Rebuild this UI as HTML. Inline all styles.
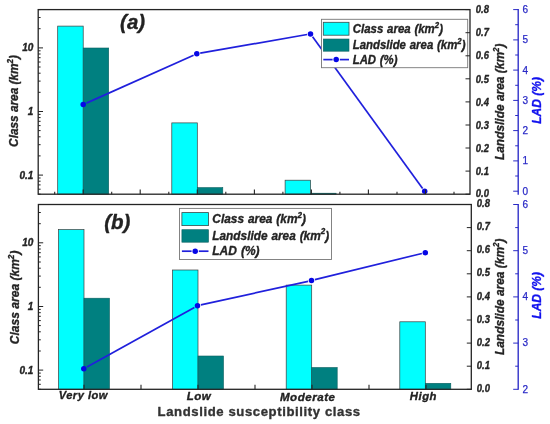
<!DOCTYPE html>
<html><head><meta charset="utf-8"><title>chart</title>
<style>html,body{margin:0;padding:0;background:#fff}svg{display:block}</style></head>
<body><svg width="550" height="424" viewBox="0 0 550 424">
<rect width="550" height="424" fill="#fff"/>
<rect x="57.7" y="26.1" width="25.5" height="168.1" fill="#00ffff" stroke="#3c3c3c" stroke-width="0.7"/>
<rect x="83.2" y="48.0" width="25.5" height="146.2" fill="#008080" stroke="#0a6060" stroke-width="0.6"/>
<rect x="171.8" y="122.9" width="25.5" height="71.3" fill="#00ffff" stroke="#3c3c3c" stroke-width="0.7"/>
<rect x="197.3" y="187.6" width="25.5" height="6.6" fill="#008080" stroke="#0a6060" stroke-width="0.6"/>
<rect x="285.1" y="180.2" width="25.5" height="14.0" fill="#00ffff" stroke="#3c3c3c" stroke-width="0.7"/>
<rect x="310.6" y="193.2" width="25.5" height="1.0" fill="#008080" stroke="#0a6060" stroke-width="0.6"/>
<line x1="86.4" y1="103.1" x2="193.6" y2="55.2" stroke="#2020dc" stroke-width="1.7"/>
<line x1="200.2" y1="53.2" x2="307.1" y2="34.5" stroke="#2020dc" stroke-width="1.7"/>
<line x1="312.6" y1="36.7" x2="422.6" y2="188.4" stroke="#2020dc" stroke-width="1.7"/>
<circle cx="83.2" cy="104.5" r="2.75" fill="#0606e6"/>
<circle cx="196.8" cy="53.8" r="2.75" fill="#0606e6"/>
<circle cx="310.5" cy="33.9" r="2.75" fill="#0606e6"/>
<circle cx="424.7" cy="191.2" r="2.75" fill="#0606e6"/>
<rect x="321.5" y="19.3" width="146.2" height="48.4" fill="#fff" stroke="#777" stroke-width="0.9"/>
<rect x="323.3" y="22.3" width="25.7" height="12.9" fill="#00ffff" stroke="#3a4a4a" stroke-width="0.8"/>
<rect x="323.3" y="39.0" width="25.7" height="12.2" fill="#008080" stroke="#0a6060" stroke-width="0.6"/>
<line x1="323.3" x2="332.6" y1="59.6" y2="59.6" stroke="#2020dc" stroke-width="1.7"/>
<line x1="339.8" x2="349.0" y1="59.6" y2="59.6" stroke="#2020dc" stroke-width="1.7"/>
<circle cx="336.2" cy="59.6" r="2.75" fill="#0606e6"/>
<text transform="translate(352.70,33.40) scale(0.9092,1)" x="0.00" y="0" font-family="Liberation Sans, Arial, sans-serif" font-size="12.6" font-weight="bold" font-style="italic" fill="#242424" word-spacing="0.7" stroke="#242424" stroke-width="0.35" stroke-linejoin="round">Class area (km<tspan dy="-5.29" font-size="8.57">2</tspan><tspan dy="5.29">)</tspan></text>
<text transform="translate(352.70,48.80) scale(0.9060,1)" x="0.00" y="0" font-family="Liberation Sans, Arial, sans-serif" font-size="12.6" font-weight="bold" font-style="italic" fill="#242424" word-spacing="0.7" stroke="#242424" stroke-width="0.35" stroke-linejoin="round">Landslide area (km<tspan dy="-5.29" font-size="8.57">2</tspan><tspan dy="5.29">)</tspan></text>
<text transform="translate(352.70,63.60) scale(0.9015,1)" x="0.00" y="0" font-family="Liberation Sans, Arial, sans-serif" font-size="12.6" font-weight="bold" font-style="italic" fill="#242424" word-spacing="0.7" stroke="#242424" stroke-width="0.35" stroke-linejoin="round">LAD (%)</text>
<rect x="38.2" y="9.6" width="431.8" height="184.6" fill="none" stroke="#242424" stroke-width="1.3"/>
<line x1="38.2" x2="40.6" y1="194.2" y2="194.2" stroke="#242424" stroke-width="1"/>
<line x1="38.2" x2="40.6" y1="189.2" y2="189.2" stroke="#242424" stroke-width="1"/>
<line x1="38.2" x2="40.6" y1="184.9" y2="184.9" stroke="#242424" stroke-width="1"/>
<line x1="38.2" x2="40.6" y1="181.2" y2="181.2" stroke="#242424" stroke-width="1"/>
<line x1="38.2" x2="40.6" y1="178.0" y2="178.0" stroke="#242424" stroke-width="1"/>
<line x1="38.2" x2="43.0" y1="175.1" y2="175.1" stroke="#242424" stroke-width="1"/>
<line x1="38.2" x2="40.6" y1="155.9" y2="155.9" stroke="#242424" stroke-width="1"/>
<line x1="38.2" x2="40.6" y1="144.7" y2="144.7" stroke="#242424" stroke-width="1"/>
<line x1="38.2" x2="40.6" y1="136.8" y2="136.8" stroke="#242424" stroke-width="1"/>
<line x1="38.2" x2="40.6" y1="130.6" y2="130.6" stroke="#242424" stroke-width="1"/>
<line x1="38.2" x2="40.6" y1="125.6" y2="125.6" stroke="#242424" stroke-width="1"/>
<line x1="38.2" x2="40.6" y1="121.3" y2="121.3" stroke="#242424" stroke-width="1"/>
<line x1="38.2" x2="40.6" y1="117.6" y2="117.6" stroke="#242424" stroke-width="1"/>
<line x1="38.2" x2="40.6" y1="114.4" y2="114.4" stroke="#242424" stroke-width="1"/>
<line x1="38.2" x2="43.0" y1="111.5" y2="111.5" stroke="#242424" stroke-width="1"/>
<line x1="38.2" x2="40.6" y1="92.3" y2="92.3" stroke="#242424" stroke-width="1"/>
<line x1="38.2" x2="40.6" y1="81.1" y2="81.1" stroke="#242424" stroke-width="1"/>
<line x1="38.2" x2="40.6" y1="73.2" y2="73.2" stroke="#242424" stroke-width="1"/>
<line x1="38.2" x2="40.6" y1="67.0" y2="67.0" stroke="#242424" stroke-width="1"/>
<line x1="38.2" x2="40.6" y1="62.0" y2="62.0" stroke="#242424" stroke-width="1"/>
<line x1="38.2" x2="40.6" y1="57.7" y2="57.7" stroke="#242424" stroke-width="1"/>
<line x1="38.2" x2="40.6" y1="54.0" y2="54.0" stroke="#242424" stroke-width="1"/>
<line x1="38.2" x2="40.6" y1="50.8" y2="50.8" stroke="#242424" stroke-width="1"/>
<line x1="38.2" x2="43.0" y1="47.9" y2="47.9" stroke="#242424" stroke-width="1"/>
<line x1="38.2" x2="40.6" y1="28.7" y2="28.7" stroke="#242424" stroke-width="1"/>
<line x1="38.2" x2="40.6" y1="17.5" y2="17.5" stroke="#242424" stroke-width="1"/>
<line x1="38.2" x2="40.6" y1="9.6" y2="9.6" stroke="#242424" stroke-width="1"/>
<text transform="translate(33.30,51.48) scale(1.0000,1)" x="-11.12" y="0" font-family="Liberation Sans, Arial, sans-serif" font-size="10" font-weight="bold" font-style="italic" fill="#242424" stroke="#242424" stroke-width="0.35" stroke-linejoin="round">10</text>
<text transform="translate(33.30,115.07) scale(1.0000,1)" x="-5.56" y="0" font-family="Liberation Sans, Arial, sans-serif" font-size="10" font-weight="bold" font-style="italic" fill="#242424" stroke="#242424" stroke-width="0.35" stroke-linejoin="round">1</text>
<text transform="translate(33.30,178.66) scale(1.0000,1)" x="-13.90" y="0" font-family="Liberation Sans, Arial, sans-serif" font-size="10" font-weight="bold" font-style="italic" fill="#242424" stroke="#242424" stroke-width="0.35" stroke-linejoin="round">0.1</text>
<text transform="translate(18.30,100.90) rotate(-90) scale(0.8968,1)" x="-51.29" y="0" font-family="Liberation Sans, Arial, sans-serif" font-size="13.2" font-weight="bold" font-style="italic" fill="#242424" stroke="#242424" stroke-width="0.35" stroke-linejoin="round">Class area (km<tspan dy="-5.54" font-size="8.98">2</tspan><tspan dy="5.54">)</tspan></text>
<line x1="470.0" x2="465.5" y1="194.2" y2="194.2" stroke="#242424" stroke-width="1"/>
<text transform="translate(475.80,196.60) scale(0.9423,1)" x="0.00" y="0" font-family="Liberation Sans, Arial, sans-serif" font-size="10" font-weight="bold" font-style="italic" fill="#242424" stroke="#242424" stroke-width="0.35" stroke-linejoin="round">0.0</text>
<line x1="470.0" x2="465.5" y1="171.1" y2="171.1" stroke="#242424" stroke-width="1"/>
<text transform="translate(475.80,174.82) scale(0.9423,1)" x="0.00" y="0" font-family="Liberation Sans, Arial, sans-serif" font-size="10" font-weight="bold" font-style="italic" fill="#242424" stroke="#242424" stroke-width="0.35" stroke-linejoin="round">0.1</text>
<line x1="470.0" x2="465.5" y1="148.0" y2="148.0" stroke="#242424" stroke-width="1"/>
<text transform="translate(475.80,151.75) scale(0.9423,1)" x="0.00" y="0" font-family="Liberation Sans, Arial, sans-serif" font-size="10" font-weight="bold" font-style="italic" fill="#242424" stroke="#242424" stroke-width="0.35" stroke-linejoin="round">0.2</text>
<line x1="470.0" x2="465.5" y1="125.0" y2="125.0" stroke="#242424" stroke-width="1"/>
<text transform="translate(475.80,128.67) scale(0.9423,1)" x="0.00" y="0" font-family="Liberation Sans, Arial, sans-serif" font-size="10" font-weight="bold" font-style="italic" fill="#242424" stroke="#242424" stroke-width="0.35" stroke-linejoin="round">0.3</text>
<line x1="470.0" x2="465.5" y1="101.9" y2="101.9" stroke="#242424" stroke-width="1"/>
<text transform="translate(475.80,105.60) scale(0.9423,1)" x="0.00" y="0" font-family="Liberation Sans, Arial, sans-serif" font-size="10" font-weight="bold" font-style="italic" fill="#242424" stroke="#242424" stroke-width="0.35" stroke-linejoin="round">0.4</text>
<line x1="470.0" x2="465.5" y1="78.8" y2="78.8" stroke="#242424" stroke-width="1"/>
<text transform="translate(475.80,82.52) scale(0.9423,1)" x="0.00" y="0" font-family="Liberation Sans, Arial, sans-serif" font-size="10" font-weight="bold" font-style="italic" fill="#242424" stroke="#242424" stroke-width="0.35" stroke-linejoin="round">0.5</text>
<line x1="470.0" x2="465.5" y1="55.8" y2="55.8" stroke="#242424" stroke-width="1"/>
<text transform="translate(475.80,59.45) scale(0.9423,1)" x="0.00" y="0" font-family="Liberation Sans, Arial, sans-serif" font-size="10" font-weight="bold" font-style="italic" fill="#242424" stroke="#242424" stroke-width="0.35" stroke-linejoin="round">0.6</text>
<line x1="470.0" x2="465.5" y1="32.7" y2="32.7" stroke="#242424" stroke-width="1"/>
<text transform="translate(475.80,36.37) scale(0.9423,1)" x="0.00" y="0" font-family="Liberation Sans, Arial, sans-serif" font-size="10" font-weight="bold" font-style="italic" fill="#242424" stroke="#242424" stroke-width="0.35" stroke-linejoin="round">0.7</text>
<line x1="470.0" x2="465.5" y1="9.6" y2="9.6" stroke="#242424" stroke-width="1"/>
<text transform="translate(475.80,13.30) scale(0.9423,1)" x="0.00" y="0" font-family="Liberation Sans, Arial, sans-serif" font-size="10" font-weight="bold" font-style="italic" fill="#242424" stroke="#242424" stroke-width="0.35" stroke-linejoin="round">0.8</text>
<text transform="translate(504.30,101.70) rotate(-90) scale(0.9196,1)" x="-63.51" y="0" font-family="Liberation Sans, Arial, sans-serif" font-size="13.0" font-weight="bold" font-style="italic" fill="#242424" stroke="#242424" stroke-width="0.35" stroke-linejoin="round">Landslide area (km<tspan dy="-5.46" font-size="8.84">2</tspan><tspan dy="5.46">)</tspan></text>
<line x1="54.7" x2="54.7" y1="194.2" y2="191.7" stroke="#242424" stroke-width="1.1"/>
<line x1="83.2" x2="83.2" y1="194.2" y2="189.6" stroke="#242424" stroke-width="1.1"/>
<line x1="111.7" x2="111.7" y1="194.2" y2="191.7" stroke="#242424" stroke-width="1.1"/>
<line x1="140.2" x2="140.2" y1="194.2" y2="189.6" stroke="#242424" stroke-width="1.1"/>
<line x1="168.8" x2="168.8" y1="194.2" y2="191.7" stroke="#242424" stroke-width="1.1"/>
<line x1="197.3" x2="197.3" y1="194.2" y2="189.6" stroke="#242424" stroke-width="1.1"/>
<line x1="225.8" x2="225.8" y1="194.2" y2="191.7" stroke="#242424" stroke-width="1.1"/>
<line x1="254.4" x2="254.4" y1="194.2" y2="189.6" stroke="#242424" stroke-width="1.1"/>
<line x1="282.9" x2="282.9" y1="194.2" y2="191.7" stroke="#242424" stroke-width="1.1"/>
<line x1="311.4" x2="311.4" y1="194.2" y2="189.6" stroke="#242424" stroke-width="1.1"/>
<line x1="339.9" x2="339.9" y1="194.2" y2="191.7" stroke="#242424" stroke-width="1.1"/>
<line x1="368.4" x2="368.4" y1="194.2" y2="189.6" stroke="#242424" stroke-width="1.1"/>
<line x1="397.0" x2="397.0" y1="194.2" y2="191.7" stroke="#242424" stroke-width="1.1"/>
<line x1="425.5" x2="425.5" y1="194.2" y2="189.6" stroke="#242424" stroke-width="1.1"/>
<line x1="454.0" x2="454.0" y1="194.2" y2="191.7" stroke="#242424" stroke-width="1.1"/>
<line x1="518.2" x2="518.2" y1="9.1" y2="194.7" stroke="#2a2ac6" stroke-width="1.35"/>
<line x1="518.2" x2="513.2" y1="191.2" y2="191.2" stroke="#2a2ac6" stroke-width="1"/>
<text transform="translate(522.50,194.57) scale(1.0000,1)" x="0.00" y="0" font-family="Liberation Sans, Arial, sans-serif" font-size="10" font-weight="normal" font-style="normal" fill="#2a2ac6" stroke="#2a2ac6" stroke-width="0.25" stroke-linejoin="round">0</text>
<line x1="518.2" x2="513.2" y1="160.9" y2="160.9" stroke="#2a2ac6" stroke-width="1"/>
<text transform="translate(522.50,164.31) scale(1.0000,1)" x="0.00" y="0" font-family="Liberation Sans, Arial, sans-serif" font-size="10" font-weight="normal" font-style="normal" fill="#2a2ac6" stroke="#2a2ac6" stroke-width="0.25" stroke-linejoin="round">1</text>
<line x1="518.2" x2="513.2" y1="130.6" y2="130.6" stroke="#2a2ac6" stroke-width="1"/>
<text transform="translate(522.50,134.05) scale(1.0000,1)" x="0.00" y="0" font-family="Liberation Sans, Arial, sans-serif" font-size="10" font-weight="normal" font-style="normal" fill="#2a2ac6" stroke="#2a2ac6" stroke-width="0.25" stroke-linejoin="round">2</text>
<line x1="518.2" x2="513.2" y1="100.4" y2="100.4" stroke="#2a2ac6" stroke-width="1"/>
<text transform="translate(522.50,103.79) scale(1.0000,1)" x="0.00" y="0" font-family="Liberation Sans, Arial, sans-serif" font-size="10" font-weight="normal" font-style="normal" fill="#2a2ac6" stroke="#2a2ac6" stroke-width="0.25" stroke-linejoin="round">3</text>
<line x1="518.2" x2="513.2" y1="70.1" y2="70.1" stroke="#2a2ac6" stroke-width="1"/>
<text transform="translate(522.50,73.52) scale(1.0000,1)" x="0.00" y="0" font-family="Liberation Sans, Arial, sans-serif" font-size="10" font-weight="normal" font-style="normal" fill="#2a2ac6" stroke="#2a2ac6" stroke-width="0.25" stroke-linejoin="round">4</text>
<line x1="518.2" x2="513.2" y1="39.9" y2="39.9" stroke="#2a2ac6" stroke-width="1"/>
<text transform="translate(522.50,43.26) scale(1.0000,1)" x="0.00" y="0" font-family="Liberation Sans, Arial, sans-serif" font-size="10" font-weight="normal" font-style="normal" fill="#2a2ac6" stroke="#2a2ac6" stroke-width="0.25" stroke-linejoin="round">5</text>
<line x1="518.2" x2="513.2" y1="9.6" y2="9.6" stroke="#2a2ac6" stroke-width="1"/>
<text transform="translate(522.50,13.00) scale(1.0000,1)" x="0.00" y="0" font-family="Liberation Sans, Arial, sans-serif" font-size="10" font-weight="normal" font-style="normal" fill="#2a2ac6" stroke="#2a2ac6" stroke-width="0.25" stroke-linejoin="round">6</text>
<line x1="518.2" x2="515.2" y1="176.0" y2="176.0" stroke="#2a2ac6" stroke-width="1"/>
<line x1="518.2" x2="515.2" y1="145.8" y2="145.8" stroke="#2a2ac6" stroke-width="1"/>
<line x1="518.2" x2="515.2" y1="115.5" y2="115.5" stroke="#2a2ac6" stroke-width="1"/>
<line x1="518.2" x2="515.2" y1="85.3" y2="85.3" stroke="#2a2ac6" stroke-width="1"/>
<line x1="518.2" x2="515.2" y1="55.0" y2="55.0" stroke="#2a2ac6" stroke-width="1"/>
<line x1="518.2" x2="515.2" y1="24.7" y2="24.7" stroke="#2a2ac6" stroke-width="1"/>
<text transform="translate(541.20,100.40) rotate(-90) scale(0.9239,1)" x="-25.27" y="0" font-family="Liberation Sans, Arial, sans-serif" font-size="13.0" font-weight="bold" font-style="italic" fill="#1212ee" stroke="#1212ee" stroke-width="0.35" stroke-linejoin="round">LAD (%)</text>
<text transform="translate(132.60,29.00) scale(1.0000,1)" x="-12.53" y="0" font-family="Liberation Sans, Arial, sans-serif" font-size="20.5" font-weight="bold" font-style="italic" fill="#222" stroke="#222" stroke-width="0.35" stroke-linejoin="round">(a)</text>
<rect x="58.5" y="229.6" width="25.5" height="159.7" fill="#00ffff" stroke="#3c3c3c" stroke-width="0.7"/>
<rect x="84.0" y="298.2" width="25.5" height="91.1" fill="#008080" stroke="#0a6060" stroke-width="0.6"/>
<rect x="172.5" y="270.0" width="25.5" height="119.3" fill="#00ffff" stroke="#3c3c3c" stroke-width="0.7"/>
<rect x="198.0" y="356.0" width="25.5" height="33.3" fill="#008080" stroke="#0a6060" stroke-width="0.6"/>
<rect x="286.2" y="285.1" width="25.5" height="104.2" fill="#00ffff" stroke="#3c3c3c" stroke-width="0.7"/>
<rect x="311.7" y="367.5" width="25.5" height="21.8" fill="#008080" stroke="#0a6060" stroke-width="0.6"/>
<rect x="399.8" y="321.8" width="25.5" height="67.5" fill="#00ffff" stroke="#3c3c3c" stroke-width="0.7"/>
<rect x="425.3" y="383.3" width="25.5" height="6.0" fill="#008080" stroke="#0a6060" stroke-width="0.6"/>
<line x1="86.9" y1="367.1" x2="194.4" y2="307.4" stroke="#2020dc" stroke-width="1.7"/>
<line x1="200.9" y1="304.9" x2="308.1" y2="281.3" stroke="#2020dc" stroke-width="1.7"/>
<line x1="314.9" y1="279.7" x2="421.9" y2="253.5" stroke="#2020dc" stroke-width="1.7"/>
<circle cx="83.8" cy="368.8" r="2.75" fill="#0606e6"/>
<circle cx="197.5" cy="305.7" r="2.75" fill="#0606e6"/>
<circle cx="311.5" cy="280.5" r="2.75" fill="#0606e6"/>
<circle cx="425.3" cy="252.7" r="2.75" fill="#0606e6"/>
<rect x="179.5" y="208.4" width="152.0" height="51.1" fill="#fff" stroke="#777" stroke-width="0.9"/>
<rect x="181.9" y="212.6" width="26.6" height="13.0" fill="#00ffff" stroke="#3a4a4a" stroke-width="0.8"/>
<rect x="181.9" y="229.7" width="26.6" height="12.5" fill="#008080" stroke="#0a6060" stroke-width="0.6"/>
<line x1="181.9" x2="191.6" y1="251.2" y2="251.2" stroke="#2020dc" stroke-width="1.7"/>
<line x1="198.8" x2="208.5" y1="251.2" y2="251.2" stroke="#2020dc" stroke-width="1.7"/>
<circle cx="195.2" cy="251.2" r="2.75" fill="#0606e6"/>
<text transform="translate(212.30,223.00) scale(0.9079,1)" x="0.00" y="0" font-family="Liberation Sans, Arial, sans-serif" font-size="13.1" font-weight="bold" font-style="italic" fill="#242424" word-spacing="0.7" stroke="#242424" stroke-width="0.35" stroke-linejoin="round">Class area (km<tspan dy="-5.50" font-size="8.91">2</tspan><tspan dy="5.50">)</tspan></text>
<text transform="translate(212.30,239.60) scale(0.9042,1)" x="0.00" y="0" font-family="Liberation Sans, Arial, sans-serif" font-size="13.1" font-weight="bold" font-style="italic" fill="#242424" word-spacing="0.7" stroke="#242424" stroke-width="0.35" stroke-linejoin="round">Landslide area (km<tspan dy="-5.50" font-size="8.91">2</tspan><tspan dy="5.50">)</tspan></text>
<text transform="translate(212.30,254.90) scale(0.9160,1)" x="0.00" y="0" font-family="Liberation Sans, Arial, sans-serif" font-size="13.1" font-weight="bold" font-style="italic" fill="#242424" word-spacing="0.7" stroke="#242424" stroke-width="0.35" stroke-linejoin="round">LAD (%)</text>
<rect x="38.4" y="204.5" width="432.9" height="184.8" fill="none" stroke="#242424" stroke-width="1.3"/>
<line x1="38.4" x2="40.8" y1="389.3" y2="389.3" stroke="#242424" stroke-width="1"/>
<line x1="38.4" x2="40.8" y1="384.3" y2="384.3" stroke="#242424" stroke-width="1"/>
<line x1="38.4" x2="40.8" y1="380.0" y2="380.0" stroke="#242424" stroke-width="1"/>
<line x1="38.4" x2="40.8" y1="376.3" y2="376.3" stroke="#242424" stroke-width="1"/>
<line x1="38.4" x2="40.8" y1="373.1" y2="373.1" stroke="#242424" stroke-width="1"/>
<line x1="38.4" x2="43.199999999999996" y1="370.1" y2="370.1" stroke="#242424" stroke-width="1"/>
<line x1="38.4" x2="40.8" y1="351.0" y2="351.0" stroke="#242424" stroke-width="1"/>
<line x1="38.4" x2="40.8" y1="339.8" y2="339.8" stroke="#242424" stroke-width="1"/>
<line x1="38.4" x2="40.8" y1="331.8" y2="331.8" stroke="#242424" stroke-width="1"/>
<line x1="38.4" x2="40.8" y1="325.6" y2="325.6" stroke="#242424" stroke-width="1"/>
<line x1="38.4" x2="40.8" y1="320.6" y2="320.6" stroke="#242424" stroke-width="1"/>
<line x1="38.4" x2="40.8" y1="316.3" y2="316.3" stroke="#242424" stroke-width="1"/>
<line x1="38.4" x2="40.8" y1="312.7" y2="312.7" stroke="#242424" stroke-width="1"/>
<line x1="38.4" x2="40.8" y1="309.4" y2="309.4" stroke="#242424" stroke-width="1"/>
<line x1="38.4" x2="43.199999999999996" y1="306.5" y2="306.5" stroke="#242424" stroke-width="1"/>
<line x1="38.4" x2="40.8" y1="287.3" y2="287.3" stroke="#242424" stroke-width="1"/>
<line x1="38.4" x2="40.8" y1="276.1" y2="276.1" stroke="#242424" stroke-width="1"/>
<line x1="38.4" x2="40.8" y1="268.2" y2="268.2" stroke="#242424" stroke-width="1"/>
<line x1="38.4" x2="40.8" y1="262.0" y2="262.0" stroke="#242424" stroke-width="1"/>
<line x1="38.4" x2="40.8" y1="256.9" y2="256.9" stroke="#242424" stroke-width="1"/>
<line x1="38.4" x2="40.8" y1="252.7" y2="252.7" stroke="#242424" stroke-width="1"/>
<line x1="38.4" x2="40.8" y1="249.0" y2="249.0" stroke="#242424" stroke-width="1"/>
<line x1="38.4" x2="40.8" y1="245.7" y2="245.7" stroke="#242424" stroke-width="1"/>
<line x1="38.4" x2="43.199999999999996" y1="242.8" y2="242.8" stroke="#242424" stroke-width="1"/>
<line x1="38.4" x2="40.8" y1="223.7" y2="223.7" stroke="#242424" stroke-width="1"/>
<line x1="38.4" x2="40.8" y1="212.5" y2="212.5" stroke="#242424" stroke-width="1"/>
<line x1="38.4" x2="40.8" y1="204.5" y2="204.5" stroke="#242424" stroke-width="1"/>
<text transform="translate(33.30,246.42) scale(1.0000,1)" x="-11.12" y="0" font-family="Liberation Sans, Arial, sans-serif" font-size="10" font-weight="bold" font-style="italic" fill="#242424" stroke="#242424" stroke-width="0.35" stroke-linejoin="round">10</text>
<text transform="translate(33.30,310.08) scale(1.0000,1)" x="-5.56" y="0" font-family="Liberation Sans, Arial, sans-serif" font-size="10" font-weight="bold" font-style="italic" fill="#242424" stroke="#242424" stroke-width="0.35" stroke-linejoin="round">1</text>
<text transform="translate(33.30,373.74) scale(1.0000,1)" x="-13.90" y="0" font-family="Liberation Sans, Arial, sans-serif" font-size="10" font-weight="bold" font-style="italic" fill="#242424" stroke="#242424" stroke-width="0.35" stroke-linejoin="round">0.1</text>
<text transform="translate(19.20,297.30) rotate(-90) scale(0.9144,1)" x="-51.29" y="0" font-family="Liberation Sans, Arial, sans-serif" font-size="13.2" font-weight="bold" font-style="italic" fill="#242424" stroke="#242424" stroke-width="0.35" stroke-linejoin="round">Class area (km<tspan dy="-5.54" font-size="8.98">2</tspan><tspan dy="5.54">)</tspan></text>
<line x1="471.3" x2="466.8" y1="389.3" y2="389.3" stroke="#242424" stroke-width="1"/>
<text transform="translate(476.80,391.90) scale(0.9423,1)" x="0.00" y="0" font-family="Liberation Sans, Arial, sans-serif" font-size="10" font-weight="bold" font-style="italic" fill="#242424" stroke="#242424" stroke-width="0.35" stroke-linejoin="round">0.0</text>
<line x1="471.3" x2="466.8" y1="366.2" y2="366.2" stroke="#242424" stroke-width="1"/>
<text transform="translate(476.80,368.80) scale(0.9423,1)" x="0.00" y="0" font-family="Liberation Sans, Arial, sans-serif" font-size="10" font-weight="bold" font-style="italic" fill="#242424" stroke="#242424" stroke-width="0.35" stroke-linejoin="round">0.1</text>
<line x1="471.3" x2="466.8" y1="343.1" y2="343.1" stroke="#242424" stroke-width="1"/>
<text transform="translate(476.80,345.70) scale(0.9423,1)" x="0.00" y="0" font-family="Liberation Sans, Arial, sans-serif" font-size="10" font-weight="bold" font-style="italic" fill="#242424" stroke="#242424" stroke-width="0.35" stroke-linejoin="round">0.2</text>
<line x1="471.3" x2="466.8" y1="320.0" y2="320.0" stroke="#242424" stroke-width="1"/>
<text transform="translate(476.80,322.60) scale(0.9423,1)" x="0.00" y="0" font-family="Liberation Sans, Arial, sans-serif" font-size="10" font-weight="bold" font-style="italic" fill="#242424" stroke="#242424" stroke-width="0.35" stroke-linejoin="round">0.3</text>
<line x1="471.3" x2="466.8" y1="296.9" y2="296.9" stroke="#242424" stroke-width="1"/>
<text transform="translate(476.80,299.50) scale(0.9423,1)" x="0.00" y="0" font-family="Liberation Sans, Arial, sans-serif" font-size="10" font-weight="bold" font-style="italic" fill="#242424" stroke="#242424" stroke-width="0.35" stroke-linejoin="round">0.4</text>
<line x1="471.3" x2="466.8" y1="273.8" y2="273.8" stroke="#242424" stroke-width="1"/>
<text transform="translate(476.80,276.40) scale(0.9423,1)" x="0.00" y="0" font-family="Liberation Sans, Arial, sans-serif" font-size="10" font-weight="bold" font-style="italic" fill="#242424" stroke="#242424" stroke-width="0.35" stroke-linejoin="round">0.5</text>
<line x1="471.3" x2="466.8" y1="250.7" y2="250.7" stroke="#242424" stroke-width="1"/>
<text transform="translate(476.80,253.30) scale(0.9423,1)" x="0.00" y="0" font-family="Liberation Sans, Arial, sans-serif" font-size="10" font-weight="bold" font-style="italic" fill="#242424" stroke="#242424" stroke-width="0.35" stroke-linejoin="round">0.6</text>
<line x1="471.3" x2="466.8" y1="227.6" y2="227.6" stroke="#242424" stroke-width="1"/>
<text transform="translate(476.80,230.20) scale(0.9423,1)" x="0.00" y="0" font-family="Liberation Sans, Arial, sans-serif" font-size="10" font-weight="bold" font-style="italic" fill="#242424" stroke="#242424" stroke-width="0.35" stroke-linejoin="round">0.7</text>
<line x1="471.3" x2="466.8" y1="204.5" y2="204.5" stroke="#242424" stroke-width="1"/>
<text transform="translate(476.80,207.10) scale(0.9423,1)" x="0.00" y="0" font-family="Liberation Sans, Arial, sans-serif" font-size="10" font-weight="bold" font-style="italic" fill="#242424" stroke="#242424" stroke-width="0.35" stroke-linejoin="round">0.8</text>
<text transform="translate(504.30,296.70) rotate(-90) scale(0.9196,1)" x="-63.51" y="0" font-family="Liberation Sans, Arial, sans-serif" font-size="13.0" font-weight="bold" font-style="italic" fill="#242424" stroke="#242424" stroke-width="0.35" stroke-linejoin="round">Landslide area (km<tspan dy="-5.46" font-size="8.84">2</tspan><tspan dy="5.46">)</tspan></text>
<line x1="84.0" x2="84.0" y1="389.3" y2="384.7" stroke="#242424" stroke-width="1.1"/>
<line x1="141.0" x2="141.0" y1="389.3" y2="384.7" stroke="#242424" stroke-width="1.1"/>
<line x1="198.0" x2="198.0" y1="389.3" y2="384.7" stroke="#242424" stroke-width="1.1"/>
<line x1="255.0" x2="255.0" y1="389.3" y2="384.7" stroke="#242424" stroke-width="1.1"/>
<line x1="312.0" x2="312.0" y1="389.3" y2="384.7" stroke="#242424" stroke-width="1.1"/>
<line x1="369.0" x2="369.0" y1="389.3" y2="384.7" stroke="#242424" stroke-width="1.1"/>
<line x1="426.0" x2="426.0" y1="389.3" y2="384.7" stroke="#242424" stroke-width="1.1"/>
<line x1="518.2" x2="518.2" y1="204.0" y2="389.8" stroke="#2a2ac6" stroke-width="1.35"/>
<line x1="518.2" x2="513.2" y1="389.3" y2="389.3" stroke="#2a2ac6" stroke-width="1"/>
<text transform="translate(522.50,392.60) scale(1.0000,1)" x="0.00" y="0" font-family="Liberation Sans, Arial, sans-serif" font-size="10" font-weight="normal" font-style="normal" fill="#2a2ac6" stroke="#2a2ac6" stroke-width="0.25" stroke-linejoin="round">2</text>
<line x1="518.2" x2="513.2" y1="343.1" y2="343.1" stroke="#2a2ac6" stroke-width="1"/>
<text transform="translate(522.50,346.40) scale(1.0000,1)" x="0.00" y="0" font-family="Liberation Sans, Arial, sans-serif" font-size="10" font-weight="normal" font-style="normal" fill="#2a2ac6" stroke="#2a2ac6" stroke-width="0.25" stroke-linejoin="round">3</text>
<line x1="518.2" x2="513.2" y1="296.9" y2="296.9" stroke="#2a2ac6" stroke-width="1"/>
<text transform="translate(522.50,300.20) scale(1.0000,1)" x="0.00" y="0" font-family="Liberation Sans, Arial, sans-serif" font-size="10" font-weight="normal" font-style="normal" fill="#2a2ac6" stroke="#2a2ac6" stroke-width="0.25" stroke-linejoin="round">4</text>
<line x1="518.2" x2="513.2" y1="250.7" y2="250.7" stroke="#2a2ac6" stroke-width="1"/>
<text transform="translate(522.50,254.00) scale(1.0000,1)" x="0.00" y="0" font-family="Liberation Sans, Arial, sans-serif" font-size="10" font-weight="normal" font-style="normal" fill="#2a2ac6" stroke="#2a2ac6" stroke-width="0.25" stroke-linejoin="round">5</text>
<line x1="518.2" x2="513.2" y1="204.5" y2="204.5" stroke="#2a2ac6" stroke-width="1"/>
<text transform="translate(522.50,207.80) scale(1.0000,1)" x="0.00" y="0" font-family="Liberation Sans, Arial, sans-serif" font-size="10" font-weight="normal" font-style="normal" fill="#2a2ac6" stroke="#2a2ac6" stroke-width="0.25" stroke-linejoin="round">6</text>
<line x1="518.2" x2="515.2" y1="366.2" y2="366.2" stroke="#2a2ac6" stroke-width="1"/>
<line x1="518.2" x2="515.2" y1="320.0" y2="320.0" stroke="#2a2ac6" stroke-width="1"/>
<line x1="518.2" x2="515.2" y1="273.8" y2="273.8" stroke="#2a2ac6" stroke-width="1"/>
<line x1="518.2" x2="515.2" y1="227.6" y2="227.6" stroke="#2a2ac6" stroke-width="1"/>
<text transform="translate(541.20,295.30) rotate(-90) scale(0.9239,1)" x="-25.27" y="0" font-family="Liberation Sans, Arial, sans-serif" font-size="13.0" font-weight="bold" font-style="italic" fill="#1212ee" stroke="#1212ee" stroke-width="0.35" stroke-linejoin="round">LAD (%)</text>
<text transform="translate(117.30,229.00) scale(1.0000,1)" x="-13.09" y="0" font-family="Liberation Sans, Arial, sans-serif" font-size="20.5" font-weight="bold" font-style="italic" fill="#222" stroke="#222" stroke-width="0.35" stroke-linejoin="round">(b)</text>
<text transform="translate(83.30,399.20) scale(1.0012,1)" x="-24.62" y="0" font-family="Liberation Sans, Arial, sans-serif" font-size="11.1" font-weight="bold" font-style="italic" fill="#222" letter-spacing="0.5" stroke="#222" stroke-width="0.35" stroke-linejoin="round">Very low</text>
<text transform="translate(199.00,400.40) scale(1.0382,1)" x="-11.85" y="0" font-family="Liberation Sans, Arial, sans-serif" font-size="11.1" font-weight="bold" font-style="italic" fill="#222" letter-spacing="0.5" stroke="#222" stroke-width="0.35" stroke-linejoin="round">Low</text>
<text transform="translate(307.70,401.00) scale(1.0423,1)" x="-26.67" y="0" font-family="Liberation Sans, Arial, sans-serif" font-size="11.1" font-weight="bold" font-style="italic" fill="#222" letter-spacing="0.5" stroke="#222" stroke-width="0.35" stroke-linejoin="round">Moderate</text>
<text transform="translate(423.40,400.40) scale(1.0202,1)" x="-13.33" y="0" font-family="Liberation Sans, Arial, sans-serif" font-size="11.1" font-weight="bold" font-style="italic" fill="#222" letter-spacing="0.5" stroke="#222" stroke-width="0.35" stroke-linejoin="round">High</text>
<text transform="translate(259.20,416.10) scale(1.0089,1)" x="-100.76" y="0" font-family="Liberation Sans, Arial, sans-serif" font-size="13" font-weight="bold" font-style="normal" fill="#333" letter-spacing="0.6" stroke="#333" stroke-width="0.35" stroke-linejoin="round">Landslide susceptibility class</text>
</svg></body></html>
